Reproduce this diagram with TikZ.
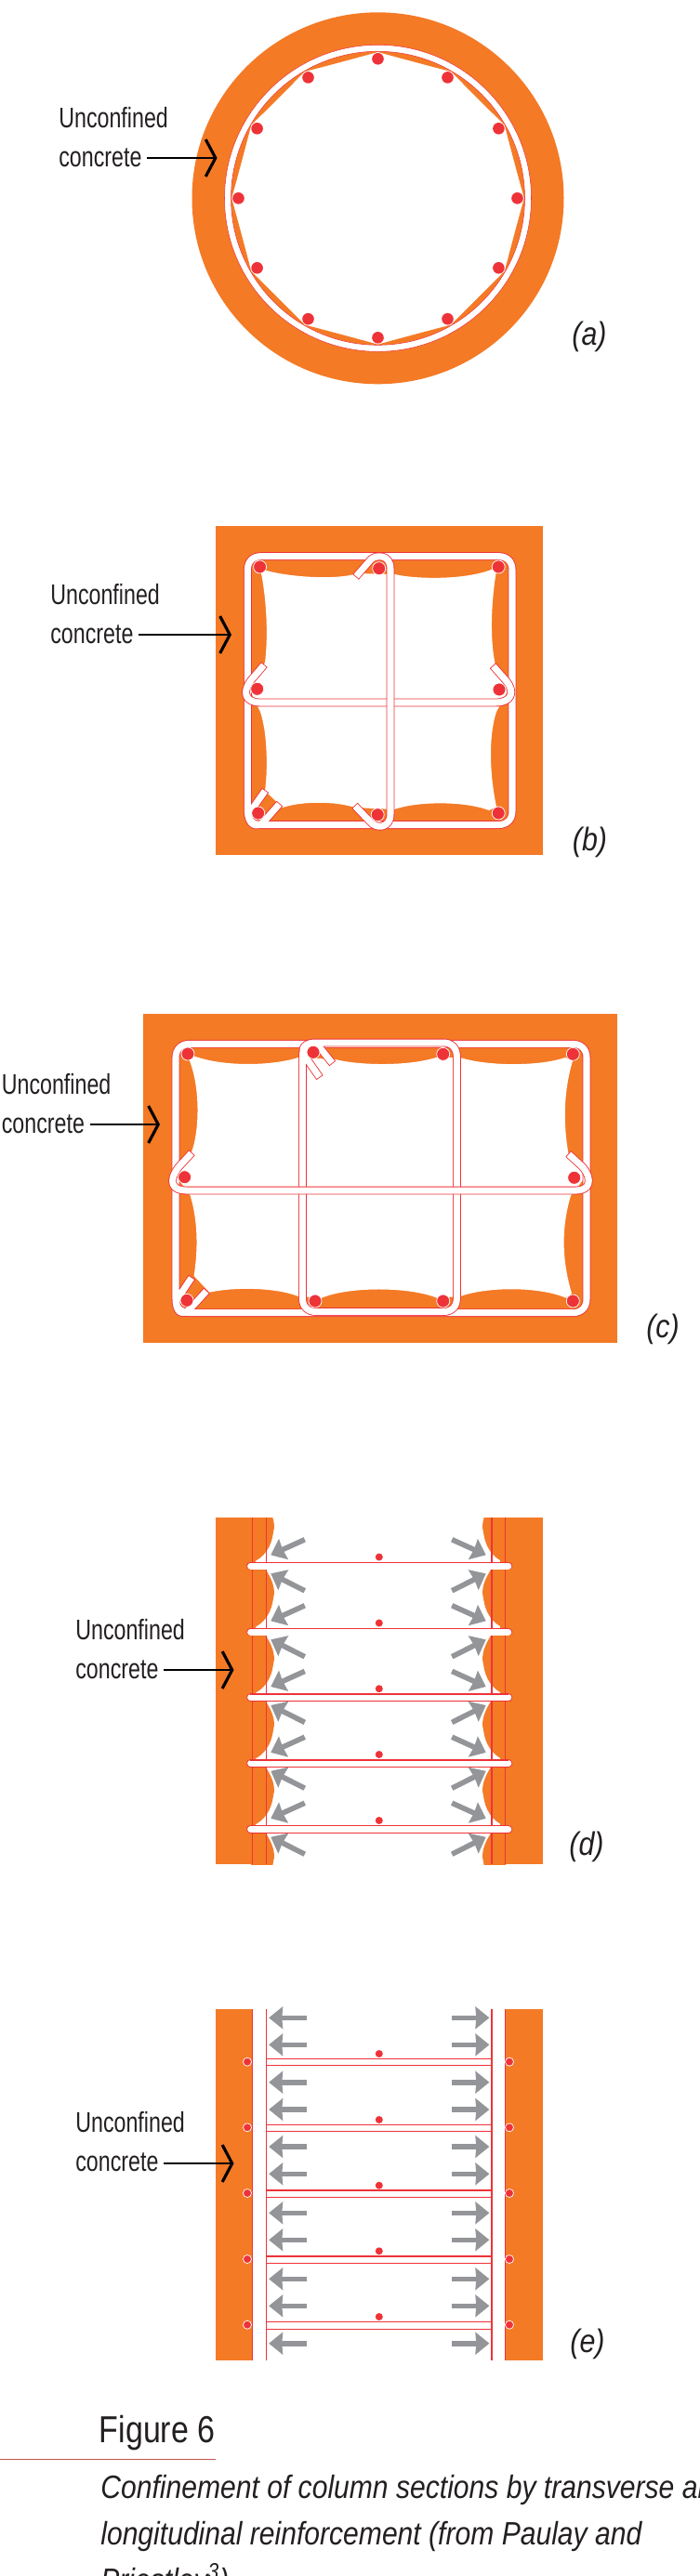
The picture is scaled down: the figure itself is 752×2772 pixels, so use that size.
\documentclass[tikz,border=0pt]{standalone}
\usepackage{fontspec}
\setmainfont[FakeStretch=0.76]{Liberation Sans}
\newfontfamily\figfont[FakeStretch=0.84]{Liberation Sans}
\newfontfamily\capfont[FakeStretch=0.865]{Liberation Sans}
\usetikzlibrary{arrows.meta}
\definecolor{concretecol}{HTML}{F47A26}
\definecolor{steelcol}{HTML}{EE3338}
\definecolor{flowcol}{HTML}{939598}
\definecolor{inkcol}{HTML}{231F20}
\definecolor{rulecol}{HTML}{C1574F}
\tikzset{
	concrete/.style={fill=concretecol},
	core/.style={fill=white},
	tie/.style={draw=steelcol, line width=0.5pt, double=white, double distance=4pt, line cap=rect, line join=round},
	rebar/.style={fill=steelcol},
	haloed/.style={fill=steelcol, draw=white, line width=0.4pt},
	steel/.style={draw=steelcol, line width=0.6pt},
	flow/.style={draw=flowcol, line width=3.2pt, -{Stealth[length=8.5pt,width=13.5pt,inset=0.5pt]}},
	pointer/.style={draw=black, -{Straight Barb[length=6pt,width=22.7pt,line width=1.8pt]}},
	lbl/.style={inner sep=0pt, text=inkcol, anchor=base west, font=\fontsize{17.4}{20}\selectfont},
	letter/.style={inner sep=0pt, text=inkcol, font=\fontsize{20}{24}\selectfont\capfont\itshape},
	figlbl/.style={inner sep=0pt, text=inkcol, anchor=base west, font=\fontsize{23}{26}\selectfont\figfont},
	captxt/.style={inner sep=0pt, text=inkcol, anchor=base west, font=\fontsize{19.8}{24}\selectfont\capfont\itshape}
}
\begin{document}
\begin{tikzpicture}[x=0.02cm, y=-0.02cm]
	\clip (0,0) rectangle (752,2772);

	\fill[concrete] (406.5,213.3) circle (200);
	\foreach \a in {0,30,...,330}
		\filldraw[white, line width=0.2pt] (406.5,213.3) -- ++({157*cos(\a)},{157*sin(\a)}) .. controls ({406.5+152*cos(\a+10)},{213.3+152*sin(\a+10)}) and ({406.5+152*cos(\a+20)},{213.3+152*sin(\a+20)}) .. ({406.5+157*cos(\a+30)},{213.3+157*sin(\a+30)}) -- cycle;
	\fill[core] (406.5,213.3) circle (146);
	\draw[draw=steelcol, line width=0.3pt, fill=white, even odd rule] (406.5,213.3) circle (165) (406.5,213.3) circle (158);
	\foreach \a in {0,30,...,330}
		\fill[rebar] (406.5,213.3) ++({150*cos(\a)},{150*sin(\a)}) circle (6.3);

	\fill[concrete] (232,566) rectangle (584,920);
	\fill[core] (280,612) .. controls (310,622) and (365,624) .. (384,617) -- (425,618) .. controls (445,623) and (500,625) .. (531,612) -- (534,614) .. controls (528,650) and (527,690) .. (533,716) -- (548,740) -- (534,766) .. controls (526,790) and (526,830) .. (534,868) -- (526,872) .. controls (500,862) and (450,862) .. (424,871) -- (382,869) .. controls (360,862) and (325,862) .. (304,869) -- (285,851) .. controls (288,830) and (288,790) .. (280,766) -- (268,741) -- (285,713) .. controls (288,690) and (288,650) .. (280,612) -- cycle;
	\draw[tie] (298,868) -- (284,884) .. controls (276,892) and (266.4,888) .. (266.4,872) -- (266.4,613) .. controls (266.4,604) and (272,598.6) .. (281,598.6) -- (536,598.6) .. controls (545,598.6) and (551,604) .. (551,613) -- (551,873) .. controls (551,882) and (545,887.6) .. (536,887.6) -- (281,887.6) .. controls (270,887.6) and (264,880) .. (271,871) -- (283,854);
	\draw[tie] (281.5,718.5) -- (270,732) .. controls (260,745) and (264,756) .. (280,756) -- (533,756) .. controls (550,756) and (555,745) .. (544,732) -- (533,719.5);
	\draw[tie] (385.5,617.5) -- (399,602) .. controls (404,597) and (420,596) .. (420,612) -- (420,876) .. controls (420,892) and (404,892) .. (398,884) -- (384.5,870);
	\foreach \x/\y in {279.6/610, 407.7/611.7, 536.2/610, 276.7/741.3, 537/742, 277.7/875, 406.2/876.7, 536.2/875}
		\filldraw[haloed] (\x,\y) circle (7);

	\fill[concrete] (153.5,1091) rectangle (664,1445);
	\fill[core] (204,1138) -- (209.6,1136.7) .. controls (240,1147.5) and (290,1147.5) .. (321,1138) -- (360.7,1140) .. controls (390,1147) and (440,1147) .. (469,1138) -- (495,1138) .. controls (525,1147.5) and (580,1147.5) .. (608,1138) -- (616,1141.7) .. controls (606,1175) and (606,1210) .. (611.5,1241.7) -- (630,1266) -- (614,1286.7) .. controls (604,1320) and (604,1355) .. (615,1391.7) -- (609,1396.7) .. controls (580,1384.4) and (525,1384.4) .. (495,1395) -- (470,1396.7) .. controls (440,1384.4) and (375,1384.4) .. (346,1396.7) -- (321,1395) .. controls (295,1385) and (250,1385) .. (225.4,1390.7) -- (208.6,1373) .. controls (213,1345) and (213,1315) .. (204.8,1286.7) -- (190,1266) -- (206,1240) .. controls (215,1215) and (215,1170) .. (204,1141.7) -- cycle;
	\draw[tie] (219.6,1392) -- (204,1409) .. controls (196,1416.5) and (189,1412) .. (189,1398) -- (189,1138) .. controls (189,1129) and (195,1123.3) .. (204,1123.3) -- (616,1123.3) .. controls (625,1123.3) and (631,1129) .. (631,1138) -- (631,1398) .. controls (631,1407) and (625,1412.7) .. (616,1412.7) -- (205,1412.7) .. controls (193,1412.7) and (186,1404) .. (192,1396) -- (204,1378);
	\draw[tie] (341.5,1156) -- (329,1138) .. controls (322,1128) and (328,1122) .. (340,1122) -- (477,1122) .. controls (486,1122) and (491.4,1128) .. (491.4,1137) -- (491.4,1397) .. controls (491.4,1406) and (486,1411.5) .. (477,1411.5) -- (340,1411.5) .. controls (331,1411.5) and (325.4,1406) .. (325.4,1397) -- (325.4,1137) .. controls (325.4,1124) and (335,1118) .. (343,1126) -- (355,1141);
	\draw[tie] (203.5,1243.5) -- (192,1256) .. controls (180,1272) and (186,1281) .. (200,1281) -- (620,1281) .. controls (634,1281) and (638,1270) .. (627,1256) -- (614.5,1244.5);
	\foreach \x/\y in {202/1134, 337/1132.3, 476.7/1134.3, 616.3/1134.3, 198.6/1266.7, 617.7/1267.3, 201/1399.3, 339/1400, 476.7/1400, 616.3/1400}
		\filldraw[haloed] (\x,\y) circle (7);

	\fill[concrete] (231.6,1633.3) rectangle (275,2006);
	\fill[concrete] (538,1633.3) rectangle (584,2006);
	\begin{scope}
		\clip (231.6,1633.3) rectangle (584,2006);
		\foreach \sx/\ox in {1/0,-1/814}
		{
			\begin{scope}[shift={(\ox,0)}, xscale=\sx]
				\foreach \cy in {1614,1685,1756,1826.7,1897.5,1968.5}
					\fill[concrete] (270,\cy+3) -- (286,\cy+4) .. controls (292,\cy+14) and (297,\cy+24) .. (294,\cy+35) .. controls (292,\cy+50) and (285,\cy+62) .. (270,\cy+68) -- cycle;
			\end{scope}
		}
	\end{scope}
	\foreach \x/\w in {271.4/0.6, 286.3/0.6, 528.9/1, 543.4/0.6}
		\draw[steel, line width=\w pt] (\x,1633.3) -- (\x,2006);
	\foreach \cy in {1685,1756,1826.7,1897.5,1968.5}
	{
		\draw[tie, line cap=round] (269.6,\cy) -- (546.8,\cy);
		\fill[rebar] (407.8,\cy-9.5) circle (4);
		\draw[flow] (327.8,\cy-28.3) -- (291.3,\cy-11.7);
		\draw[flow] (327.8,\cy+26.7) -- (291.3,\cy+8.3);
		\draw[flow] (486.2,\cy-28.3) -- (522.7,\cy-11.7);
		\draw[flow] (486.2,\cy+26.7) -- (522.7,\cy+8.3);
	}
	\foreach \y in {1823, 1894}
		\draw[steel, line width=1pt] (269,\y) -- (547,\y);

	\fill[concrete] (232,2162) rectangle (271.8,2540);
	\fill[concrete] (543.4,2162) rectangle (584,2540);
	\foreach \x/\w in {271.8/0.6, 286.3/0.6, 528.9/0.8, 543.4/0.6}
		\draw[steel, line width=\w pt] (\x,2162) -- (\x,2540);
	\foreach \y/\w in {2215.3/0.6, 2222.3/0.6, 2286.3/0.6, 2293.3/0.6, 2357/1.1, 2364.3/0.6, 2427.7/1.1, 2435.3/0.6, 2498.3/0.6, 2506.3/0.6}
		\draw[steel, line width=\w pt] (286.3,\y) -- (528.9,\y);
	\foreach \y in {2210, 2281, 2351.7, 2422.3, 2493}
		\fill[rebar] (407.8,\y) circle (4);
	\foreach \y in {2218.7, 2289.3, 2360, 2431, 2501.7}
	{
		\filldraw[haloed] (266,\y) circle (4.5);
		\filldraw[haloed] (548,\y) circle (4.5);
	}
	\foreach \y in {2171.3, 2200.3, 2240.7, 2270, 2310, 2339.3, 2381.3, 2410.3, 2452.3, 2481.3, 2521.7}
	{
		\draw[flow] (329.9,\y) -- (289.2,\y);
		\draw[flow] (485.7,\y) -- (526.4,\y);
	}

	\foreach \nm/\tx/\ty/\tipx/\tipy/\w in {a/63/137/233.6/170/0.7, b/54/650/249/683/1.3, c/1.5/1177/172/1210/0.7, d/81/1764/251.5/1797/0.7, e/81/2294/251.5/2328/1.3}
	{
		\node[lbl] (un\nm) at (\tx,\ty) {Unconfined};
		\node[lbl] (con\nm) at (\tx,\ty+42) {concrete};
		\coordinate (tip\nm) at (\tipx,\tipy);
		\draw[pointer, line width=\w pt] ([xshift=3pt]con\nm.east |- tip\nm) -- (tip\nm);
	}
	\foreach \nm/\x/\y in {a/634/362, b/634.5/906, c/713/1430, d/631/1987, e/632/2522}
		\node[letter] (part\nm) at (\x,\y) {(\nm)};

	\node[figlbl] (figname) at (106.5,2628.3) {Figure 6};
	\draw[draw=rulecol, line width=0.6pt] (0,2646.3) -- (231.6,2646.3);
	\node[captxt] (capa) at (108,2688.3) {Confinement of column sections by transverse and};
	\node[captxt] (capb) at (108,2738.3) {longitudinal reinforcement (from Paulay and};
	\node[captxt] (capc) at (108,2788.3) {Priestley\textsuperscript{3})};
\end{tikzpicture}
\end{document}
